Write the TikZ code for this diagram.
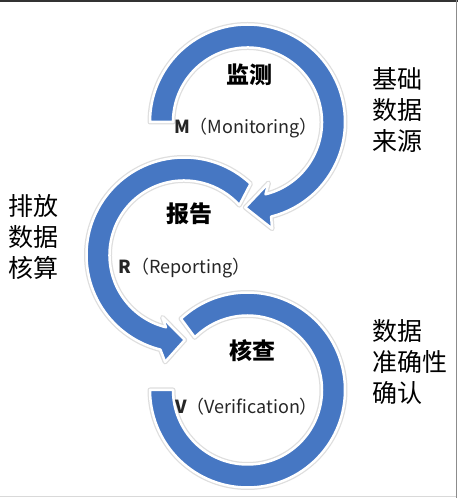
\documentclass[tikz,border=0pt]{standalone}
\usepackage{fontspec}
\setmainfont{Noto Sans CJK SC}
\usetikzlibrary{calc}
\definecolor{ringblue}{HTML}{4677C3}
\begin{document}
\begin{tikzpicture}[x=1pt,y=1pt,
  ring/.style={fill=ringblue, draw=white, line width=2.5pt, line join=round,
    preaction={draw=black!13, line width=5pt, line join=round}},
  title/.style={font=\bfseries\fontsize{23}{23}\selectfont, inner sep=0},
  sub/.style={font=\fontsize{18}{18}\selectfont, text=black!85, inner sep=0},
  side/.style={font=\fontsize{25}{31}\selectfont, align=left, inner sep=0, anchor=west}]
\useasboundingbox (0,0) rectangle (458,498);
\fill[white] (0,0) rectangle (458,498);
\coordinate (cT) at (247.5,376);
\coordinate (cM) at (184,243);
\coordinate (cB) at (247.5,108);
\def\ro{97.5}
\def\ri{74.5}
% bottom ring (V)
\draw[ring] ($(cB)+(133:\ro)$) arc[start angle=133, end angle=-180, radius=\ro]
  -- ($(cB)+(180:\ri)$) arc[start angle=-180, end angle=135, radius=\ri] -- cycle;
% middle arrow (R)
\draw[ring] ($(cM)+(47:\ro)$) arc[start angle=47, end angle=256, radius=\ro]
  -- ($(cM)+(260:108.5)$) -- ($(cM)+(270.5:85)$) -- ($(cM)+(251:66)$)
  -- ($(cM)+(256:\ri)$) arc[start angle=256, end angle=42, radius=\ri] -- cycle;
% top arrow (M)
\draw[ring] ($(cT)+(180:\ro)$) arc[start angle=180, end angle=-76, radius=\ro]
  -- ($(cT)+(-77:109.5)$) -- ($(cT)+(-91.5:85.5)$) -- ($(cT)+(-71:64.5)$)
  -- ($(cT)+(-76:\ri)$) arc[start angle=-76, end angle=180, radius=\ri] -- cycle;
% labels
\node[title] (tM) at (249.5,423) {监测};
\node[sub] (sM) at (246,370) {\textbf{M}（Monitoring）};
\node[title] (tR) at (189,284) {报告};
\node[sub] (sR) at (184.5,230) {\textbf{R}（Reporting）};
\node[title] (tV) at (252,147) {核查};
\node[sub] (sV) at (246.5,91) {\textbf{V}（Verification）};
\node[side] (n1) at (372,388) {基础\\数据\\来源};
\node[side] (n2) at (8,261) {排放\\数据\\核算};
\node[side] (n3) at (372,136) {数据\\准确性\\确认};
% screenshot frame
\draw[black!80, line width=2pt] (0,497) -- (458,497);
\draw[black!45, line width=1pt] (456.5,0) -- (456.5,498);
\draw[black!15, line width=1pt] (0,1.5) -- (456,1.5);
\end{tikzpicture}
\end{document}
